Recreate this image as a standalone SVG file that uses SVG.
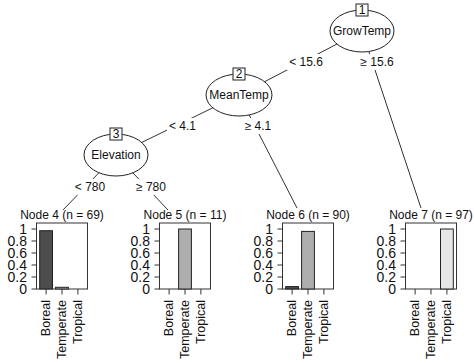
<svg xmlns="http://www.w3.org/2000/svg" width="474" height="363" viewBox="0 0 474 363">
<style>
text{font-family:"Liberation Sans",Arial,sans-serif;fill:#111;font-size:12px}
.c{text-anchor:middle}
.e{stroke:#333;stroke-width:1;fill:none}
.lb{fill:#fff;stroke:none}
.el{fill:#fff;stroke:#222;stroke-width:1}
.bx{fill:#fff;stroke:#222;stroke-width:1}
.pb{fill:none;stroke:#333;stroke-width:1}
.ax{stroke:#333;stroke-width:1;fill:none}
.yl{font-size:14px;text-anchor:end}
.xl{text-anchor:end;font-size:12.5px}
.b1{fill:#4D4D4D;stroke:#222}
.b2{fill:#AEAEAE;stroke:#222}
.b3{fill:#E6E6E6;stroke:#222}
</style>
<defs>
<g id="yaxis">
<path class="ax" d="M0,229V289M-5,229H0M-5,241H0M-5,253H0M-5,265H0M-5,277H0M-5,289H0"/>
<text class="yl" x="-9.5" y="234">1</text>
<text class="yl" x="-9.5" y="246">0.8</text>
<text class="yl" x="-9.5" y="258">0.6</text>
<text class="yl" x="-9.5" y="270">0.4</text>
<text class="yl" x="-9.5" y="282">0.2</text>
<text class="yl" x="-9.5" y="294">0</text>
</g>
<g id="xaxis">
<path class="ax" d="M9.6,289V294.5M25.5,289V294.5M41.4,289V294.5"/>
<text class="xl" transform="translate(9.6,300) rotate(-90)" dy="0.35em">Boreal</text>
<text class="xl" transform="translate(25.5,300) rotate(-90)" dy="0.35em">Temperate</text>
<text class="xl" transform="translate(41.4,300) rotate(-90)" dy="0.35em">Tropical</text>
</g>
</defs>
<g id="edges">
<line class="e" x1="362" y1="31" x2="239" y2="95"/>
<line class="e" x1="362" y1="31" x2="421" y2="208"/>
<line class="e" x1="239" y1="95" x2="116" y2="155"/>
<line class="e" x1="239" y1="95" x2="297" y2="208"/>
<line class="e" x1="116" y1="155" x2="63" y2="210"/>
<line class="e" x1="116" y1="155" x2="168" y2="210"/>
<rect class="lb" x="287" y="54" width="38" height="16"/>
<text class="c" x="306" y="66.3">&lt; 15.6</text>
<rect class="lb" x="358" y="54" width="38" height="16"/>
<text class="c" x="377" y="66.3">≥ 15.6</text>
<rect class="lb" x="167" y="118" width="31" height="16"/>
<text class="c" x="182.5" y="130.3">&lt; 4.1</text>
<rect class="lb" x="243" y="118" width="31" height="16"/>
<text class="c" x="258" y="130.3">≥ 4.1</text>
<rect class="lb" x="73" y="179" width="34" height="16"/>
<text class="c" x="90" y="191.3">&lt; 780</text>
<rect class="lb" x="134" y="179" width="34" height="16"/>
<text class="c" x="151" y="191.3">≥ 780</text>
</g>
<g id="node1">
<ellipse class="el" cx="362" cy="31" rx="32" ry="21"/>
<text class="c" x="362" y="35.3">GrowTemp</text>
<rect class="bx" x="356" y="4" width="12" height="12"/>
<text class="c" x="362" y="14.3">1</text>
</g>
<g id="node2">
<ellipse class="el" cx="239" cy="95" rx="33" ry="21"/>
<text class="c" x="239" y="99.3">MeanTemp</text>
<rect class="bx" x="233" y="68" width="12" height="12"/>
<text class="c" x="239" y="78.3">2</text>
</g>
<g id="node3">
<ellipse class="el" cx="116" cy="155" rx="32" ry="21"/>
<text class="c" x="116" y="159.3">Elevation</text>
<rect class="bx" x="110" y="128" width="12" height="12"/>
<text class="c" x="116" y="138.3">3</text>
</g>
<g id="node4">
<text class="c" x="62" y="219">Node 4 (n = 69)</text>
<rect class="pb" x="36.5" y="223" width="51" height="66"/>
<rect class="b1" x="39.7" y="230.7" width="12.8" height="58.3"/>
<rect class="b2" x="55.6" y="287.3" width="12.8" height="1.7"/>
<use href="#yaxis" x="36.5"/>
<use href="#xaxis" x="36.5"/>
</g>
<g id="node5">
<text class="c" x="185" y="219">Node 5 (n = 11)</text>
<rect class="pb" x="159.5" y="223" width="51" height="66"/>
<rect class="b2" x="178.6" y="229" width="12.8" height="60"/>
<use href="#yaxis" x="159.5"/>
<use href="#xaxis" x="159.5"/>
</g>
<g id="node6">
<text class="c" x="308" y="219">Node 6 (n = 90)</text>
<rect class="pb" x="282.5" y="223" width="51" height="66"/>
<rect class="b1" x="285.7" y="286.6" width="12.8" height="2.4"/>
<rect class="b2" x="301.6" y="231.4" width="12.8" height="57.6"/>
<use href="#yaxis" x="282.5"/>
<use href="#xaxis" x="282.5"/>
</g>
<g id="node7">
<text class="c" x="431" y="219">Node 7 (n = 97)</text>
<rect class="pb" x="405.5" y="223" width="51" height="66"/>
<rect class="b3" x="440.5" y="229" width="12.8" height="60"/>
<use href="#yaxis" x="405.5"/>
<use href="#xaxis" x="405.5"/>
</g>
</svg>
